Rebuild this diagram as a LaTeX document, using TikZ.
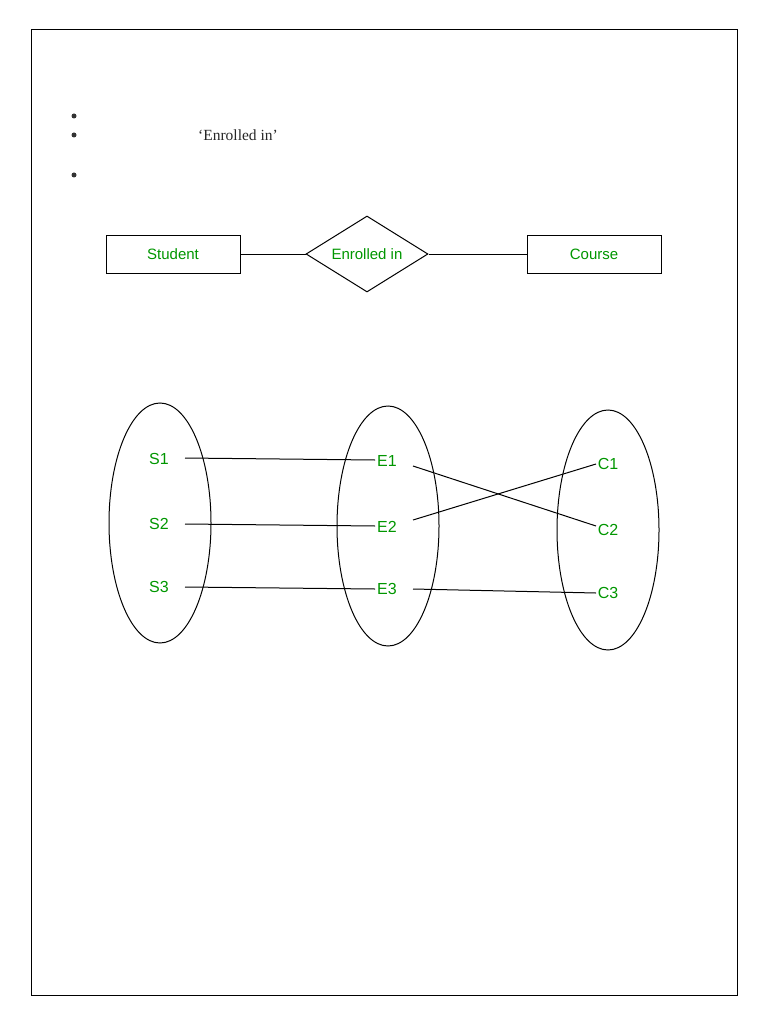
\documentclass[tikz,border=0pt]{standalone}
\usepackage{fontspec}
\setmainfont{Liberation Sans}
\newfontfamily\seriff{Liberation Serif}
\usetikzlibrary{shapes.geometric}
\definecolor{grn}{RGB}{0,150,0}
\begin{document}
\begin{tikzpicture}[x=1pt,y=-1pt,
  lbl/.style={text=grn,font=\fontsize{16}{18}\selectfont,inner sep=1pt},
  ent/.style={draw,line width=1pt,minimum width=134pt,minimum height=38pt,text=grn,font=\fontsize{15}{17}\selectfont},
  rel/.style={draw,diamond,aspect=1.6,line width=1pt,minimum width=122pt,minimum height=76pt,inner sep=0pt,text=grn,font=\fontsize{15}{17}\selectfont},
  set/.style={draw,ellipse,line width=1pt,minimum width=102pt,minimum height=240pt},
  ln/.style={line width=1pt},
  bul/.style={circle,fill=black!80,inner sep=0pt,minimum size=5pt}]
\useasboundingbox (0,0) rectangle (768,1024);
\draw[line width=0.7pt] (31,29) rectangle (737,995);
\node[bul] (b1) at (74,116) {};
\node[bul] (b2) at (74,135) {};
\node[bul] (b3) at (74,175) {};
\node[font=\seriff\fontsize{15.5}{18}\selectfont,text=black!85] (t) at (238,135) {‘Enrolled in’};
\node[ent] (stu) at (173,254) {Student};
\node[ent] (cou) at (594,254) {Course};
\node[rel] (enr) at (367,254) {Enrolled in};
\draw[ln] (stu.east) -- (enr.west);
\draw[ln] (enr.east) -- (cou.west);
\node[set] (ls) at (160,523) {};
\node[set] (ms) at (388,526) {};
\node[set] (rs) at (608,530) {};
\node[lbl] (s1) at (159,459) {S1};
\node[lbl] (s2) at (159,524) {S2};
\node[lbl] (s3) at (159,587) {S3};
\node[lbl] (e1) at (387,461) {E1};
\node[lbl] (e2) at (387,527) {E2};
\node[lbl] (e3) at (387,589) {E3};
\node[lbl] (c1) at (608,464) {C1};
\node[lbl] (c2) at (608,530) {C2};
\node[lbl] (c3) at (608,593) {C3};
\coordinate (s1r) at (185,458); \coordinate (e1l) at (375,460);
\coordinate (s2r) at (185,524); \coordinate (e2l) at (375,526);
\coordinate (s3r) at (185,587); \coordinate (e3l) at (375,589);
\coordinate (e1r) at (413,466); \coordinate (c2l) at (596,526);
\coordinate (e2r) at (413,520); \coordinate (c1l) at (596,464);
\coordinate (e3r) at (413,589); \coordinate (c3l) at (596,593);
\draw[ln] (s1r) -- (e1l);
\draw[ln] (s2r) -- (e2l);
\draw[ln] (s3r) -- (e3l);
\draw[ln] (e1r) -- (c2l);
\draw[ln] (e2r) -- (c1l);
\draw[ln] (e3r) -- (c3l);
\end{tikzpicture}
\end{document}
